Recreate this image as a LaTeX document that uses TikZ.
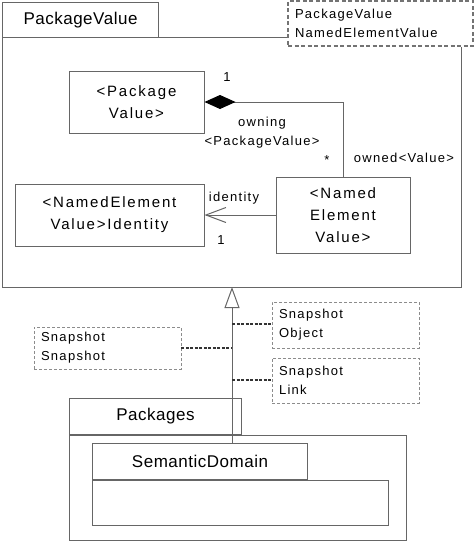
\documentclass[tikz,border=0pt]{standalone}
\usepackage{fontspec}
\setmainfont{Liberation Sans}
\newfontfamily\tabfont[LetterSpace=3]{Liberation Sans}
\newfontfamily\clsfont[LetterSpace=12]{Liberation Sans}
\newfontfamily\lblfont[LetterSpace=10]{Liberation Sans}
\usetikzlibrary{arrows.meta, positioning}

\begin{document}
\begin{tikzpicture}[x=1pt, y=-1pt,
    line/.style={draw=black!60, line width=1pt},
    tab/.style={line, rectangle, anchor=north west, inner sep=0pt,
        font=\tabfont\fontsize{17}{20}\selectfont},
    cls/.style={line, rectangle, align=center, inner sep=0pt,
        font=\clsfont\fontsize{15}{22}\selectfont},
    note/.style={draw=black!45, line width=0.8pt, dash pattern=on 3pt off 2pt,
        rectangle, align=left, inner xsep=7pt, inner ysep=0pt,
        font=\lblfont\fontsize{13}{19}\selectfont},
    lbl/.style={inner sep=0pt, font=\lblfont\fontsize{13}{19}\selectfont},
    link/.style={draw=black!80, line width=1.2pt, dash pattern=on 3pt off 1.5pt}]
    \useasboundingbox (0,0) rectangle (474,543);

    % outer package
    \node [tab, minimum width=156pt, minimum height=35pt] (pvtab) at (2,2) {PackageValue};
    \node [note, draw=black!55, line width=1.6pt, dash pattern=on 4pt off 2.5pt,
        minimum width=185pt, minimum height=45pt, text width=171pt] (pvnote) at (380.5,23.5)
        {PackageValue\\NamedElementValue};
    \draw [line] (pvnote.west |- pvtab.south) -- (pvtab.south west) -- (2,287)
        -- (461,287) coordinate (pvcorner) -- (pvcorner |- pvnote.south);

    % classes
    \node [cls, minimum width=135pt, minimum height=62pt] (pkgval) at (136.5,102) {<Package\\Value>};
    \node [cls, minimum width=189pt, minimum height=62pt] (ident) at (109.5,215) {<NamedElement\\Value>Identity};
    \node [cls, minimum width=134pt, minimum height=76pt] (nev) at (343,215) {<Named\\Element\\Value>};

    \draw [line, -{Diamond[length=31pt, width=14pt, black]}] (nev.north) |- (pkgval.east);
    \draw [line, -{Straight Barb[length=20pt, width=15pt]}] (nev.west) -- (ident.east);

    \node [lbl] (one1) at (227,77) {1};
    \node [lbl, align=center] (owning) at (262,133) {owning\\<PackageValue>};
    \node [lbl] (star) at (327,160) {*};
    \node [lbl] (owned) at (404,158) {owned<Value>};
    \node [lbl] (idlbl) at (234,198) {identity};
    \node [lbl] (one2) at (221,240) {1};

    % packages below
    \node [tab, minimum width=172pt, minimum height=36pt] (pkgtab) at (69,398) {Packages};
    \draw [line] (pkgtab.south west) rectangle (406,540);
    \node [tab, minimum width=215pt, minimum height=36pt] (semtab) at (92,443) {SemanticDomain};
    \draw [line] (semtab.south west) rectangle (388,525);

    % generalization
    \coordinate (gtop) at (232,287);
    \coordinate (gbot) at (232,443);
    \draw [line, -{Triangle[open, length=21pt, width=15pt]}] (gbot) -- (gtop);

    % notes
    \node [note, minimum width=147pt, minimum height=42pt, text width=133pt] (snap) at (107.5,348) {Snapshot\\Snapshot};
    \node [note, minimum width=147pt, minimum height=46pt, text width=133pt] (obj) at (345.5,325) {Snapshot\\Object};
    \node [note, minimum width=147pt, minimum height=45pt, text width=133pt] (lnk) at (345.5,380.5) {Snapshot\\Link};
    \coordinate (c1) at (232,348);
    \coordinate (c2) at (232,324);
    \coordinate (c3) at (232,380);
    \draw [link] (snap.east) -- (c1);
    \draw [link] (c2) -- (c2 -| obj.west);
    \draw [link] (c3) -- (c3 -| lnk.west);
\end{tikzpicture}
\end{document}
